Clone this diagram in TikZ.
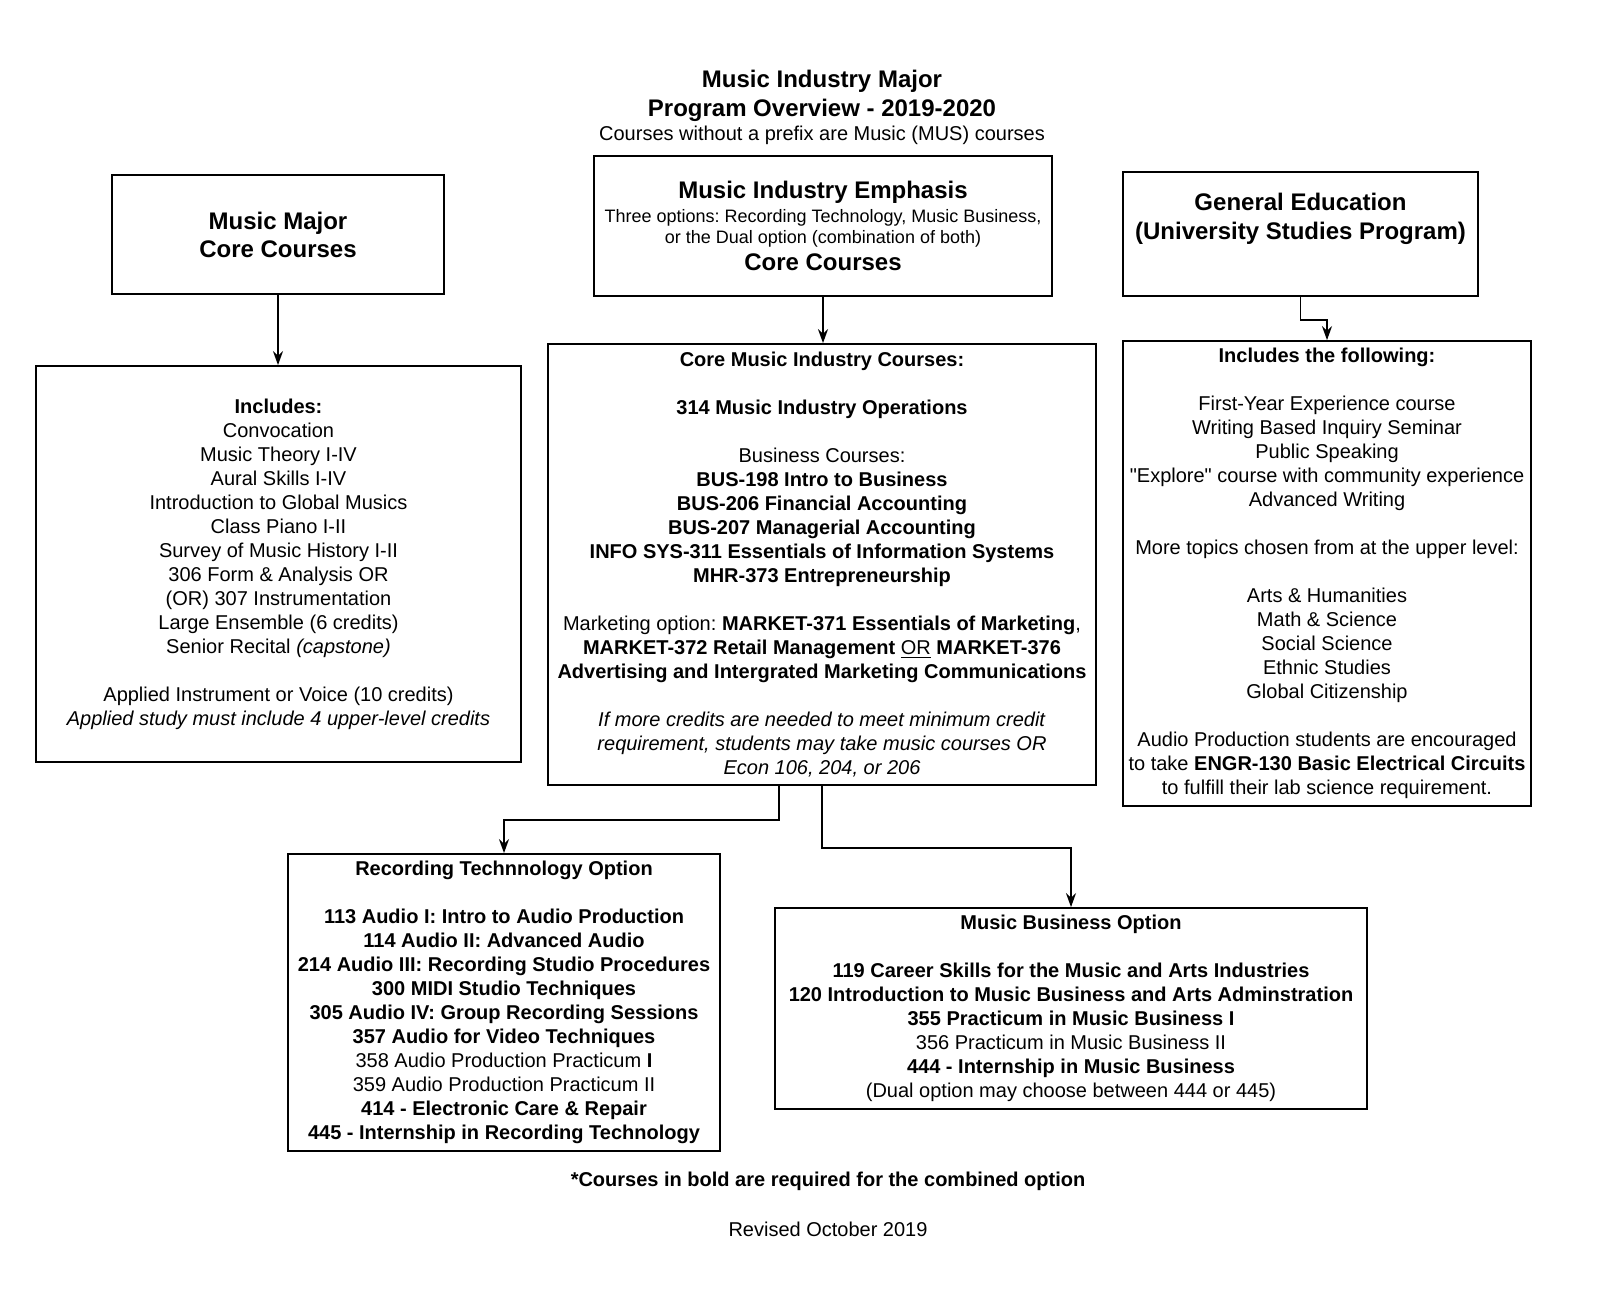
\documentclass[tikz,border=0pt]{standalone}
\usepackage{fontspec}
\setmainfont{Liberation Sans}[Ligatures=TeXOff]
\usetikzlibrary{arrows.meta}
\tikzset{>={Stealth[length=7pt,width=5pt]}}
\tikzset{
  box/.style={draw, line width=0.9pt, align=center, inner sep=0pt,
    font=\fontsize{10}{12}\selectfont},
  head/.style={align=center, font=\fontsize{12}{14.5}\selectfont\bfseries},
  txt/.style={align=center, font=\fontsize{10}{12}\selectfont}
}
\frenchspacing

\begin{document}
\begin{tikzpicture}[x=0.5pt, y=-0.5pt]
    \useasboundingbox (0,0) rectangle (1600,1313);
    \node[head] (title) at (822,96) {Music Industry Major\\Program Overview - 2019-2020};
    \node[txt] (subtitle) at (822,135) {Courses without a prefix are Music (MUS) courses};
    % top row
    \node[box, head, minimum width=166pt, minimum height=59.5pt] (major) at (278,234.5)
      {Music Major\\[-0.5pt]Core Courses};
    \node[box, minimum width=229pt, minimum height=70pt,
      font=\fontsize{9}{10.5}\selectfont] (emph) at (823,226)
      {{\fontsize{12}{14.5}\selectfont\bfseries Music Industry Emphasis}\\[1.4pt]
       Three options: Recording Technology, Music Business,\\
       or the Dual option (combination of both)\\[3.1pt]
       {\fontsize{12}{14.5}\selectfont\bfseries Core Courses}};
    \node[box, minimum width=177.5pt, minimum height=62pt] (gened) at (1300.5,234) {};
    \node[head] (genedtxt) at (1300.5,218.5) {General Education\\(University Studies Program)};
    % middle row
    \node[box, minimum width=242.5pt, minimum height=198pt] (incl) at (278.5,564)
      {\textbf{Includes:}\\
       Convocation\\
       Music Theory I-IV\\
       Aural Skills I-IV\\
       Introduction to Global Musics\\
       Class Piano I-II\\
       Survey of Music History I-II\\
       306 Form \& Analysis OR\\
       (OR) 307 Instrumentation\\
       Large Ensemble (6 credits)\\
       Senior Recital \textit{(capstone)}\\[12pt]
       Applied Instrument or Voice (10 credits)\\
       \textit{Applied study must include 4 upper-level credits}};
    \node[box, minimum width=274pt, minimum height=220.5pt] (core) at (822,564.5)
      {\textbf{Core Music Industry Courses:}\\[12pt]
       \textbf{314 Music Industry Operations}\\[12pt]
       Business Courses:\\
       \textbf{BUS-198 Intro to Business}\\
       \textbf{BUS-206 Financial Accounting}\\
       \textbf{BUS-207 Managerial Accounting}\\
       \textbf{INFO SYS-311 Essentials of Information Systems}\\
       \textbf{MHR-373 Entrepreneurship}\\[12pt]
       Marketing option: \textbf{MARKET-371 Essentials of Marketing},\\
       \textbf{MARKET-372 Retail Management} \underline{OR} \textbf{MARKET-376}\\
       \textbf{Advertising and Intergrated Marketing Communications}\\[12pt]
       \textit{If more credits are needed to meet minimum credit}\\
       \textit{requirement, students may take music courses OR}\\
       \textit{Econ 106, 204, or 206}};
    \node[box, minimum width=204pt, minimum height=232.5pt] (gincl) at (1327,573.5)
      {\textbf{Includes the following:}\\[12pt]
       First-Year Experience course\\
       Writing Based Inquiry Seminar\\
       Public Speaking\\
       "Explore" course with community experience\\
       Advanced Writing\\[12pt]
       More topics chosen from at the upper level:\\[12pt]
       Arts \& Humanities\\
       Math \& Science\\
       Social Science\\
       Ethnic Studies\\
       Global Citizenship\\[12pt]
       Audio Production students are encouraged\\
       to take \textbf{ENGR-130 Basic Electrical Circuits}\\
       to fulfill their lab science requirement.};
    % options
    \node[box, minimum width=216pt, minimum height=148.5pt] (rec) at (504,1002.5)
      {\textbf{Recording Technnology Option}\\[12pt]
       \textbf{113 Audio I: Intro to Audio Production}\\
       \textbf{114 Audio II: Advanced Audio}\\
       \textbf{214 Audio III: Recording Studio Procedures}\\
       \textbf{300 MIDI Studio Techniques}\\
       \textbf{305 Audio IV: Group Recording Sessions}\\
       \textbf{357 Audio for Video Techniques}\\
       358 Audio Production Practicum \textbf{I}\\
       359 Audio Production Practicum II\\
       \textbf{414 - Electronic Care \& Repair}\\
       \textbf{445 - Internship in Recording Technology}};
    \node[box, minimum width=296pt, minimum height=100.5pt] (bus) at (1071,1008.5)
      {\textbf{Music Business Option}\\[12pt]
       \textbf{119 Career Skills for the Music and Arts Industries}\\
       \textbf{120 Introduction to Music Business and Arts Adminstration}\\
       \textbf{355 Practicum in Music Business I}\\
       356 Practicum in Music Business II\\
       \textbf{444 - Internship in Music Business}\\
       (Dual option may choose between 444 or 445)};
    \node[txt, font=\fontsize{10}{12}\selectfont\bfseries] (note) at (828,1181)
      {*Courses in bold are required for the combined option};
    \node[txt] (revised) at (828,1229) {Revised October 2019};
    % connectors
    \coordinate (split) at (779,785);
    \begin{scope}[line width=0.9pt]
      \draw[->] (major.south) -- (major.south |- incl.north);
      \draw[->] (emph.south) -- (emph.south |- core.north);
      \draw[->] (gened.south) -- ++(0,23) -| (gincl.north);
      \draw[->] (split) -- ++(0,35) -| (rec.north);
      \draw[->] (core.south) -- ++(0,62) -| (bus.north);
    \end{scope}
\end{tikzpicture}
\end{document}
